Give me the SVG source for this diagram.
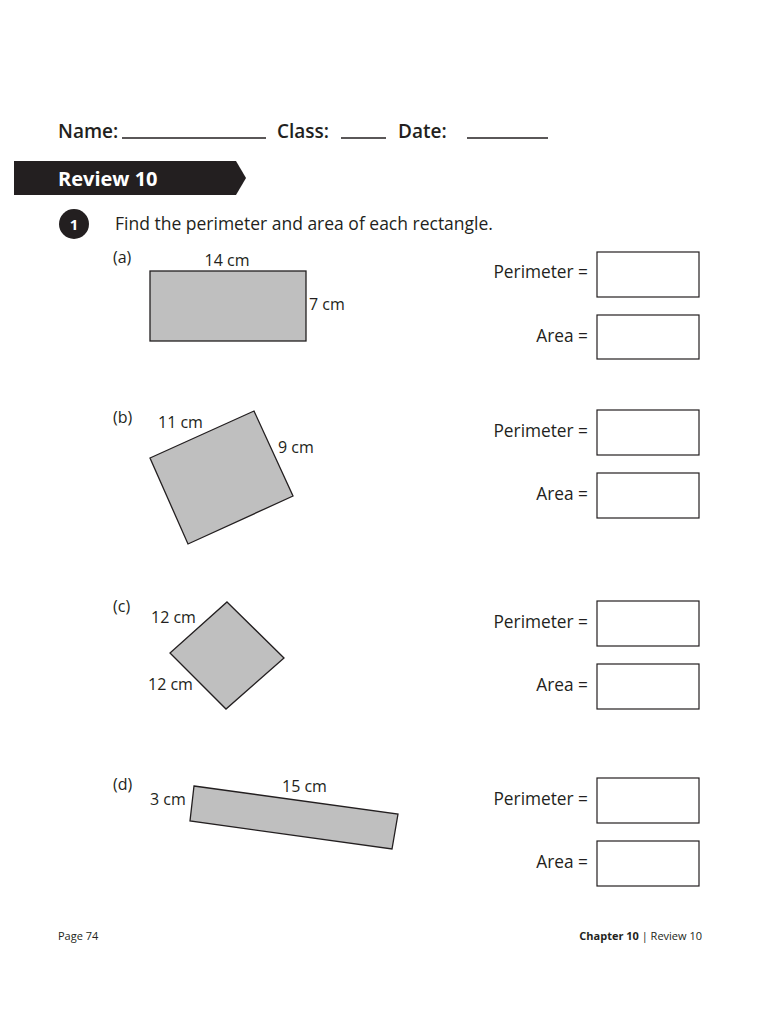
<svg xmlns="http://www.w3.org/2000/svg" width="768" height="1024" viewBox="0 0 768 1024">
<style>
text{font-family:"Open Sans","Liberation Sans",sans-serif;fill:#231f20}
.h{font-size:19px;font-weight:600}
.t{font-size:16px}
.i{font-size:17.5px}
.lbl{font-size:17.3px;text-anchor:end}
.box{fill:#fff;stroke:#231f20;stroke-width:1.2}
.sh{fill:#bfbfbf;stroke:#231f20;stroke-width:1.3}
.ul{stroke:#231f20;stroke-width:1.5}
</style>
<rect width="768" height="1024" fill="#fff"/>
<text class="h" x="58" y="138">Name:</text>
<line class="ul" x1="122" y1="138" x2="266" y2="138"/>
<text class="h" x="277" y="138">Class:</text>
<line class="ul" x1="341" y1="138" x2="386" y2="138"/>
<text class="h" x="398" y="138">Date:</text>
<line class="ul" x1="467" y1="138" x2="548" y2="138"/>
<polygon points="14,161 236,161 246,178 236,195 14,195" fill="#231f20"/>
<text x="58" y="186" style="font-size:20px;font-weight:700;fill:#fff">Review 10</text>
<circle cx="74" cy="224" r="15" fill="#231f20"/>
<text x="74" y="230" style="font-size:15px;font-weight:700;fill:#fff;text-anchor:middle">1</text>
<text class="i" x="115" y="230">Find the perimeter and area of each rectangle.</text>

<g id="a">
<text class="t" x="113" y="263">(a)</text>
<rect class="sh" x="150" y="271" width="156" height="70"/>
<text class="t" x="227" y="266" text-anchor="middle">14 cm</text>
<text class="t" x="309" y="310">7 cm</text>
<text class="lbl" x="588" y="278">Perimeter =</text>
<rect class="box" x="597" y="252" width="102" height="45"/>
<text class="lbl" x="588" y="342">Area =</text>
<rect class="box" x="597" y="315" width="102" height="44"/>
</g>
<g id="b">
<text class="t" x="113" y="423">(b)</text>
<polygon class="sh" points="150,458 254,411 293,496 188,544"/>
<text class="t" x="158" y="428">11 cm</text>
<text class="t" x="278" y="453">9 cm</text>
<text class="lbl" x="588" y="437">Perimeter =</text>
<rect class="box" x="597" y="410" width="102" height="45"/>
<text class="lbl" x="588" y="500">Area =</text>
<rect class="box" x="597" y="473" width="102" height="45"/>
</g>
<g id="c">
<text class="t" x="113" y="612">(c)</text>
<polygon class="sh" points="227,602 284,658 226,709 170,653"/>
<text class="t" x="151" y="623">12 cm</text>
<text class="t" x="148" y="690">12 cm</text>
<text class="lbl" x="588" y="628">Perimeter =</text>
<rect class="box" x="597" y="601" width="102" height="45"/>
<text class="lbl" x="588" y="691">Area =</text>
<rect class="box" x="597" y="664" width="102" height="45"/>
</g>
<g id="d">
<text class="t" x="113" y="790">(d)</text>
<polygon class="sh" points="194,786 398,814 392,849 190,821"/>
<text class="t" x="150" y="805">3 cm</text>
<text class="t" x="282" y="792">15 cm</text>
<text class="lbl" x="588" y="805">Perimeter =</text>
<rect class="box" x="597" y="778" width="102" height="45"/>
<text class="lbl" x="588" y="868">Area =</text>
<rect class="box" x="597" y="841" width="102" height="45"/>
</g>
<text x="58" y="940" style="font-size:11px">Page 74</text>
<text x="702" y="940" style="font-size:11px;text-anchor:end"><tspan font-weight="700">Chapter 10</tspan> | Review 10</text>
</svg>
